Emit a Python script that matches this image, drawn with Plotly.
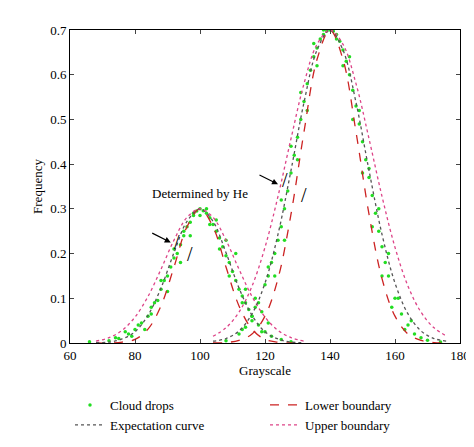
import plotly.graph_objects as go

# concept 1 (Ex = 100) and concept 2 (Ex = 140), curves sampled every 4 grayscale units
x1 = [68, 72, 76, 80, 84, 88, 92, 96, 100, 104, 108, 112, 116, 120, 124, 128, 132]
exp1 = [0.001, 0.002, 0.009, 0.025, 0.062, 0.123, 0.202, 0.272, 0.300, 0.272, 0.202, 0.123, 0.062, 0.025, 0.009, 0.002, 0.001]
low1 = [0.0, 0.0, 0.002, 0.008, 0.031, 0.083, 0.170, 0.260, 0.300, 0.260, 0.170, 0.083, 0.031, 0.008, 0.002, 0.0, 0.0]
up1 = [0.004, 0.012, 0.028, 0.058, 0.104, 0.165, 0.230, 0.281, 0.300, 0.281, 0.230, 0.165, 0.104, 0.058, 0.028, 0.012, 0.004]

x2 = [104, 108, 112, 116, 120, 124, 128, 132, 136, 140, 144, 148, 152, 156, 160, 164, 168, 172, 176]
exp2 = [0.004, 0.010, 0.027, 0.065, 0.134, 0.243, 0.386, 0.538, 0.655, 0.700, 0.655, 0.538, 0.386, 0.243, 0.134, 0.065, 0.027, 0.010, 0.004]
low2 = [0.0, 0.001, 0.006, 0.020, 0.060, 0.144, 0.288, 0.472, 0.634, 0.700, 0.634, 0.472, 0.288, 0.144, 0.060, 0.020, 0.006, 0.001, 0.0]
up2 = [0.015, 0.034, 0.069, 0.127, 0.214, 0.328, 0.457, 0.580, 0.668, 0.700, 0.668, 0.580, 0.457, 0.328, 0.214, 0.127, 0.069, 0.034, 0.015]

drops_x = [66, 72, 75, 78, 80, 82, 84, 85, 86, 88, 89, 90, 91, 92, 93, 94, 95, 96, 97, 98, 99, 100, 101,
           102, 103, 104, 105, 106, 107, 108, 109, 110, 111, 112, 113, 114, 115, 116, 118, 120, 122, 125, 128,
           74, 77, 79, 81, 83, 85, 87, 88, 90, 92, 94, 95, 97, 98, 100, 102, 103, 105, 106, 108, 109, 111, 113,
           114, 116, 117, 119, 121,
           108, 112, 114, 116, 118, 120, 121, 122, 123, 124, 125, 126, 127, 128, 129, 130, 131, 132, 133, 134,
           135, 136, 137, 138, 139, 140, 141, 142, 143, 144, 145, 146, 147, 148, 149, 150, 151, 152, 153, 154,
           155, 156, 157, 158, 160, 162, 164, 166, 170, 174,
           113, 117, 119, 121, 123, 125, 126, 128, 130, 131, 133, 135, 136, 138, 142, 144, 146, 147, 149, 150,
           152, 153, 155, 156, 158, 159, 161, 163, 165, 168]
drops_y = [0.003, 0.005, 0.010, 0.020, 0.030, 0.045, 0.060, 0.080, 0.090, 0.120, 0.140, 0.150, 0.170, 0.190, 0.200,
           0.220, 0.240, 0.260, 0.270, 0.285, 0.295, 0.300, 0.296, 0.290, 0.280, 0.265, 0.250, 0.235, 0.215, 0.195,
           0.180, 0.160, 0.140, 0.120, 0.105, 0.090, 0.075, 0.060, 0.040, 0.025, 0.015, 0.008, 0.003,
           0.012, 0.025, 0.015, 0.040, 0.030, 0.065, 0.095, 0.140, 0.115, 0.210, 0.180, 0.250, 0.240, 0.290,
           0.285, 0.300, 0.265, 0.275, 0.210, 0.230, 0.150, 0.200, 0.090, 0.120, 0.050, 0.080, 0.025, 0.045,
           0.005, 0.020, 0.035, 0.060, 0.090, 0.130, 0.150, 0.180, 0.200, 0.230, 0.260, 0.300, 0.340, 0.380,
           0.420, 0.460, 0.500, 0.540, 0.580, 0.610, 0.640, 0.660, 0.680, 0.690, 0.698, 0.700, 0.697, 0.690,
           0.675, 0.655, 0.630, 0.600, 0.565, 0.530, 0.490, 0.450, 0.410, 0.370, 0.330, 0.290, 0.250, 0.215,
           0.180, 0.150, 0.100, 0.065, 0.040, 0.020, 0.006, 0.002,
           0.030, 0.100, 0.070, 0.170, 0.150, 0.320, 0.230, 0.440, 0.410, 0.560, 0.520, 0.670, 0.620, 0.700,
           0.680, 0.620, 0.640, 0.500, 0.520, 0.380, 0.390, 0.260, 0.300, 0.150, 0.200, 0.080, 0.100, 0.030,
           0.050, 0.012]

font = dict(family="Liberation Serif", size=13, color="black")

fig = go.Figure()
fig.add_trace(go.Scatter(x=drops_x, y=drops_y, mode="markers", name="Cloud drops",
                         marker=dict(color="#22dd22", size=3.5)))
fig.add_trace(go.Scatter(x=x1, y=low1, mode="lines", name="Lower boundary", line_shape="spline",
                         line=dict(color="#cc2222", dash="dash", width=1.3)))
fig.add_trace(go.Scatter(x=x1, y=exp1, mode="lines", name="Expectation curve", line_shape="spline",
                         line=dict(color="#555555", dash="dot", width=1.3)))
fig.add_trace(go.Scatter(x=x1, y=up1, mode="lines", name="Upper boundary", line_shape="spline",
                         line=dict(color="#dd4488", dash="dot", width=1.3)))
fig.add_trace(go.Scatter(x=x2, y=low2, mode="lines", showlegend=False, line_shape="spline",
                         line=dict(color="#cc2222", dash="dash", width=1.3)))
fig.add_trace(go.Scatter(x=x2, y=exp2, mode="lines", showlegend=False, line_shape="spline",
                         line=dict(color="#555555", dash="dot", width=1.3)))
fig.add_trace(go.Scatter(x=x2, y=up2, mode="lines", showlegend=False, line_shape="spline",
                         line=dict(color="#dd4488", dash="dot", width=1.3)))

fig.add_annotation(x=100, y=0.335, text="Determined by He", showarrow=False, font=font)
fig.add_annotation(x=91, y=0.225, ax=-20, ay=-10, text="", showarrow=True, arrowhead=2, arrowwidth=1.2,
                   arrowcolor="black")
fig.add_annotation(x=124, y=0.355, ax=-20, ay=-10, text="", showarrow=True, arrowhead=2, arrowwidth=1.2,
                   arrowcolor="black")
for sx, sy in [(93, 0.225), (97, 0.2), (126, 0.365), (132, 0.33)]:
    fig.add_annotation(x=sx, y=sy, text="/", showarrow=False, font=dict(family="Liberation Serif", size=20))

axis = dict(showline=True, linecolor="black", mirror="ticks", ticks="inside", ticklen=4,
            showgrid=False, zeroline=False, tickfont=font)
fig.update_layout(
    width=474, height=447, plot_bgcolor="white", paper_bgcolor="white", font=font,
    margin=dict(l=62, r=14, t=22, b=112),
    xaxis=dict(axis, range=[60, 180], dtick=20, title=dict(text="Grayscale", font=font, standoff=4)),
    yaxis=dict(axis, range=[0, 0.7], dtick=0.1, title=dict(text="Frequency", font=font, standoff=4)),
    legend=dict(orientation="h", x=0.0, y=-0.15, xanchor="left", yanchor="top",
                entrywidth=0.5, entrywidthmode="fraction", font=font),
)
fig.write_html("out.html")
